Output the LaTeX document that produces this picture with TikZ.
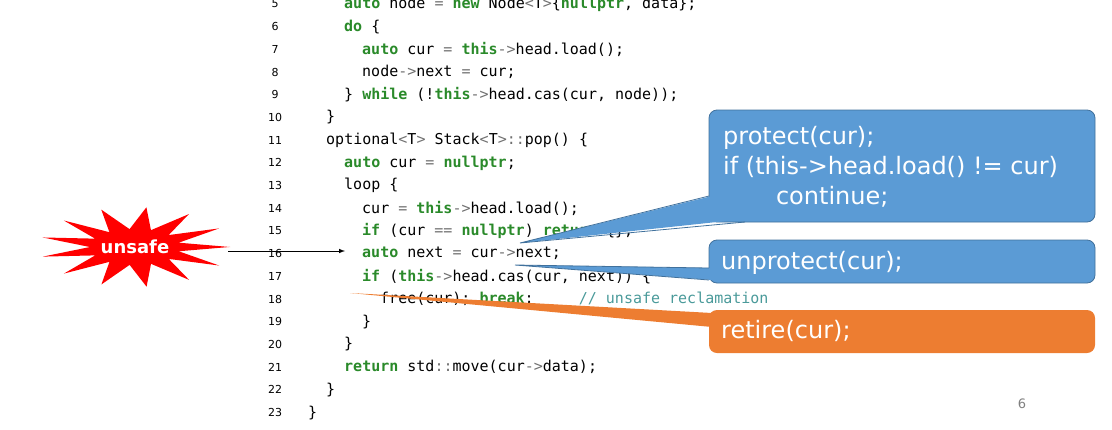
\documentclass[tikz,border=0pt]{standalone}
\usepackage{fontspec}
\setmainfont{DejaVu Sans}
\newfontfamily\codef{DejaVu Sans Mono}
\definecolor{kw}{HTML}{2A8A2A}
\definecolor{cm}{HTML}{4A9A9A}
\definecolor{op}{HTML}{707070}
\definecolor{cb}{HTML}{5B9BD5}
\definecolor{cbd}{HTML}{41719C}
\definecolor{co}{HTML}{ED7D31}
\newcommand{\kk}[1]{\textcolor{kw}{\textbf{#1}}}
\newcommand{\oo}[1]{\textcolor{op}{#1}}
\begin{document}
\begin{tikzpicture}[x=1pt,y=-1pt,
  code/.style={anchor=west,inner sep=0pt,font=\codef\fontsize{15}{15}\selectfont},
  num/.style={anchor=center,inner sep=0pt,font=\fontsize{11}{11}\selectfont\rmfamily},
  box/.style={rounded corners=8pt,draw=cbd,fill=cb,line width=0.8pt},
  txt/.style={anchor=west,inner sep=0pt,text=white,font=\fontsize{24}{30}\selectfont,align=left}]
\useasboundingbox (0,0) rectangle (1112,429);
\foreach \n in {5,...,23}{\node[num] (n\n) at (275,{4+(\n-5)*22.7}) {\n};}
\def\ly#1{{4+(#1-5)*22.7}}
\node[code] (l5) at (344,\ly{5}) {\kk{auto} node \oo{=} \kk{new} Node\oo{<}T\oo{>}\{\kk{nullptr}, data\};};
\node[code] (l6) at (344,\ly{6}) {\kk{do} \{};
\node[code] (l7) at (362,\ly{7}) {\kk{auto} cur \oo{=} \kk{this}\oo{->}head.load();};
\node[code] (l8) at (362,\ly{8}) {node\oo{->}next \oo{=} cur;};
\node[code] (l9) at (344,\ly{9}) {\} \kk{while} (!\kk{this}\oo{->}head.cas(cur, node));};
\node[code] (l10) at (326,\ly{10}) {\}};
\node[code] (l11) at (326,\ly{11}) {optional\oo{<}T\oo{>} Stack\oo{<}T\oo{>}\oo{::}pop() \{};
\node[code] (l12) at (344,\ly{12}) {\kk{auto} cur \oo{=} \kk{nullptr};};
\node[code] (l13) at (344,\ly{13}) {loop \{};
\node[code] (l14) at (362,\ly{14}) {cur \oo{=} \kk{this}\oo{->}head.load();};
\node[code] (l15) at (362,\ly{15}) {\kk{if} (cur \oo{==} \kk{nullptr}) \kk{return} \{\};};
\node[code] (l16) at (362,\ly{16}) {\kk{auto} next \oo{=} cur\oo{->}next;};
\node[code] (l17) at (362,\ly{17}) {\kk{if} (\kk{this}\oo{->}head.cas(cur, next)) \{};
\node[code] (l18) at (380,\ly{18}) {free(cur); \kk{break};\ \ \ \ \ \textcolor{cm}{// unsafe reclamation}};
\node[code] (l19) at (362,\ly{19}) {\}};
\node[code] (l20) at (344,\ly{20}) {\}};
\node[code] (l21) at (344,\ly{21}) {\kk{return} std\oo{::}move(cur\oo{->}data);};
\node[code] (l22) at (326,\ly{22}) {\}};
\node[code] (l23) at (308,\ly{23}) {\}};
% callouts
\coordinate (p1) at (520,243);
\coordinate (p2) at (515,265);
\coordinate (p3) at (350,293);
\draw[box] (709,110) rectangle (1095,222);
\fill[cb] (p1) -- (712,196) -- (745,219) -- cycle;
\draw[cbd,line width=0.8pt] (709,196) -- (p1) -- (745,222);
\node[txt] (t1) at (723,167) {protect(cur);\\if (this->head.load() != cur)\\\hspace{2.2em}continue;};
\draw[box] (709,240) rectangle (1095,283);
\fill[cb] (p2) -- (712,268) -- (712,280) -- cycle;
\draw[cbd,line width=0.8pt] (709,268) -- (p2) -- (709,280);
\node[txt] (t2) at (721,263) {unprotect(cur);};
\fill[co,rounded corners=8pt] (709,310) rectangle (1095,353);
\fill[co] (p3) -- (712,313) -- (712,327) -- cycle;
\node[txt] (t3) at (721,331) {retire(cur);};
% unsafe
\fill[red] (135,247) +(0:95pt and 40pt)
  \foreach \a [evaluate=\a as \b using \a+13.85] in {0,27.7,...,340} { -- +(\b:{45pt} and {18pt}) -- +(\a+27.7:{95pt} and {40pt}) } -- cycle;
\node[inner sep=0pt,text=white,font=\bfseries\fontsize{18}{18}\selectfont] (u) at (135,247) {unsafe};
\coordinate (ae) at (345,251);
\draw[-latex,line width=1pt] (228,251) -- (ae);
\node[text=gray,font=\fontsize{13}{13}\selectfont] (pg) at (1022,404) {6};
\end{tikzpicture}
\end{document}
